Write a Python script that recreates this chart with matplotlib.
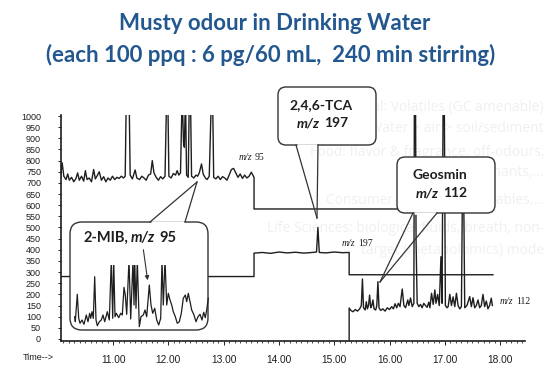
import matplotlib
matplotlib.use('Agg')
import matplotlib.pyplot as plt
from matplotlib.patches import FancyBboxPatch
from matplotlib.ticker import MultipleLocator

W, H = 550, 371

# m/z 95 trace (2-MIB), then offset step down after 13.55 min
mz95_time = [10.05, 10.08, 10.11, 10.15, 10.18, 10.21, 10.25, 10.29, 10.33, 10.36, 10.39, 10.43, 10.47,
             10.50, 10.53, 10.57, 10.61, 10.65, 10.68, 10.72, 10.75, 10.79, 10.83, 10.87, 10.91, 10.95,
             10.99, 11.03, 11.07, 11.11, 11.15, 11.19, 11.22, 11.24, 11.29, 11.31, 11.35, 11.40, 11.43,
             11.48, 11.52, 11.56, 11.60, 11.64, 11.68, 11.71, 11.74, 11.78, 11.82, 11.86, 11.90, 11.94,
             11.97, 11.99, 12.01, 12.05, 12.09, 12.13, 12.16, 12.19, 12.22, 12.25, 12.275, 12.29, 12.31,
             12.33, 12.36, 12.38, 12.40, 12.42, 12.46, 12.50, 12.53, 12.56, 12.60, 12.63, 12.67, 12.70,
             12.74, 12.78, 12.80, 12.82, 12.86, 12.90, 12.94, 12.98, 13.02, 13.06, 13.10, 13.14, 13.18,
             13.22, 13.26, 13.30, 13.34, 13.38, 13.42, 13.46, 13.50, 13.55, 13.55, 17.60]
mz95_abund = [725, 790, 730, 715, 740, 712, 725, 705, 720, 745, 712, 730, 708,
              755, 715, 722, 705, 760, 718, 735, 750, 712, 728, 705, 722, 712,
              730, 715, 725, 720, 730, 722, 730, 1100, 1100, 735, 718, 758, 722,
              715, 730, 722, 712, 735, 740, 800, 745, 725, 712, 728, 718, 730,
              1100, 1100, 730, 722, 742, 735, 755, 735, 745, 1100, 880, 860, 1100,
              735, 725, 1100, 1100, 730, 722, 735, 730, 745, 785, 740, 722, 715,
              730, 1100, 1100, 725, 718, 730, 715, 728, 722, 712, 735, 760, 765,
              745, 725, 740, 720, 735, 722, 730, 748, 725, 583, 583]

# m/z 197 trace (2,4,6-TCA)
mz197_time = [10.05, 13.55, 13.55, 13.70, 13.85, 14.00, 14.15, 14.30, 14.45, 14.60, 14.68, 14.705,
              14.73, 14.85, 15.00, 15.15, 15.27, 15.27, 17.87]
mz197_abund = [280, 280, 385, 388, 384, 390, 386, 389, 385, 388, 390, 500,
               388, 386, 390, 387, 388, 288, 288]

# m/z 112 trace (geosmin)
mz112_time = [15.27, 15.27, 15.30, 15.34, 15.38, 15.42, 15.46, 15.49, 15.51, 15.53, 15.56, 15.58,
              15.60, 15.62, 15.64, 15.66, 15.68, 15.70, 15.72, 15.75, 15.77, 15.79, 15.81, 15.84,
              15.88, 15.92, 15.96, 16.00, 16.04, 16.07, 16.10, 16.13, 16.16, 16.19, 16.23, 16.26,
              16.29, 16.33, 16.35, 16.38, 16.41, 16.44, 16.45, 16.47, 16.48, 16.50, 16.53, 16.56,
              16.59, 16.62, 16.65, 16.68, 16.71, 16.73, 16.76, 16.79, 16.82, 16.84, 16.87, 16.90,
              16.93, 16.95, 16.97, 16.99, 17.01, 17.04, 17.06, 17.09, 17.12, 17.15, 17.18, 17.21,
              17.24, 17.27, 17.30, 17.32, 17.34, 17.36, 17.40, 17.45, 17.48, 17.51, 17.54, 17.57,
              17.60, 17.63, 17.66, 17.69, 17.72, 17.75, 17.78, 17.81, 17.84, 17.86]
mz112_abund = [-10, 139, 128, 122, 132, 125, 135, 150, 269, 140, 130, 167,
               135, 150, 197, 140, 150, 175, 135, 130, 150, 257, 140, 128,
               135, 125, 140, 132, 145, 135, 158, 140, 160, 145, 224, 150,
               140, 175, 150, 184, 145, 160, 1100, 1100, 440, 160, 145, 155,
               140, 160, 150, 142, 165, 140, 205, 155, 220, 160, 200, 150,
               369, 160, 1100, 1100, 150, 140, 145, 200, 150, 189, 145, 205,
               150, 135, 145, 700, 700, 140, 150, 190, 145, 185, 140, 150,
               175, 140, 150, 200, 145, 170, 135, 150, 183, 150]

# zoomed 2-MIB window (scan index, abundance)
mib_scan = [0.7, 1.3, 3.3, 4.7, 6.0, 8.0, 10.0, 12.3, 14.0, 15.7, 16.7, 18.0, 19.3, 20.7, 22.0, 23.3,
            25.3, 27.3, 29.0, 30.7, 33.3, 35.3, 37.3, 38.7, 39.7, 41.0, 42.3, 44.7, 46.7, 48.3, 50.0,
            51.3, 52.7, 55.0, 56.7, 59.0, 60.0, 60.7, 62.0, 63.3, 65.3, 67.0, 69.3, 71.0, 72.7, 75.3,
            77.0, 78.7, 80.7, 82.7, 84.7, 86.7, 88.0, 89.3, 91.0, 92.7, 94.3, 96.0, 97.7, 99.3, 101.3,
            103.3, 105.3, 107.3, 109.3, 111.3, 112.7, 114.3, 116.0, 117.7, 120.0, 122.0, 124.0, 126.0,
            128.0, 129.7, 131.3, 132.7, 134.3]
mib_abund = [133, 83, 357, 117, 67, 100, 57, 150, 83, 167, 117, 183, 117, 533, 100, 43,
             83, 100, 150, 83, 183, 100, 700, 117, 700, 133, 167, 123, 167, 150, 427,
             350, 157, 700, 110, 700, 250, 700, 217, 700, 33, 133, 150, 200, 133, 450,
             250, 167, 217, 100, 50, 117, 700, 250, 700, 250, 367, 300, 250, 183, 133,
             67, 83, 167, 317, 350, 283, 367, 283, 200, 150, 83, 133, 157,
             100, 177, 123, 200, 317]

x_ticks = [11, 12, 13, 14, 15, 16, 17, 18]
y_ticks = list(range(0, 1001, 50))

# slide text showing through faintly behind the chart
ghost_lines = ["Environmental: Volatiles (GC amenable)", "\u2013 Water > air > soil/sediment",
               "Food: flavor & fragrance, off-odours,", "contaminants,...",
               "Consumer products, leachables,...", "Life Sciences: biological fluids, breath, non-",
               "target (metabolomics) mode"]

INK = '#1e1e1e'


def px(x0, y0, x1, y1):
    return [x0 / W, 1 - y1 / H, (x1 - x0) / W, (y1 - y0) / H]


fig = plt.figure(figsize=(W / 100, H / 100), dpi=100)
fig.patch.set_facecolor('white')

ghost_y = [107, 129, 152, 173, 201, 229, 251]
for txt, yy in zip(ghost_lines, ghost_y):
    fig.text(544 / W, 1 - yy / H, txt, fontsize=10, color='#f0f0f0', family='Open Sans',
             va='center', ha='right', zorder=-2)

fig.text(275 / W, 1 - 24 / H, 'Musty odour in Drinking Water', ha='center', va='center',
         fontsize=16, fontweight='bold', color='#23578f', family='Lato')
fig.text(271 / W, 1 - 55 / H, '(each 100 ppq : 6 pg/60 mL,  240 min stirring)', ha='center',
         va='center', fontsize=16, fontweight='bold', color='#23578f', family='Lato')

# main chromatogram
ax = fig.add_axes(px(60.5, 114.9, 525, 341.2))
ax.patch.set_alpha(0)
ax.plot(mz95_time, mz95_abund, color=INK, lw=1.0)
ax.plot(mz197_time, mz197_abund, color=INK, lw=1.0)
ax.plot(mz112_time, mz112_abund, color=INK, lw=1.0)
ax.set_xlim(10.05, 18.45)
ax.set_ylim(-10, 1005)
ax.set_xticks(x_ticks)
ax.set_xticklabels([f'{t:.2f}' for t in x_ticks])
ax.set_yticks(y_ticks)
ax.xaxis.set_minor_locator(MultipleLocator(0.1))
ax.tick_params(axis='y', labelsize=6.5, length=2, pad=12, width=0.6)
ax.tick_params(axis='x', labelsize=7.3, length=3, pad=7, width=0.6)
ax.tick_params(axis='x', which='minor', length=1.5, width=0.5)
for lab in ax.get_xticklabels() + ax.get_yticklabels():
    lab.set_family('Liberation Sans')
    lab.set_color(INK)
for s in ['top', 'right']:
    ax.spines[s].set_visible(False)
for s in ['left', 'bottom']:
    ax.spines[s].set_linewidth(1.2)
    ax.spines[s].set_color(INK)

fig.text(23 / W, 1 - 358 / H, 'Time-->', fontsize=6.5, family='Liberation Sans', color=INK,
         va='center', ha='left')

# overlay for the callouts (pixel coordinates)
ov = fig.add_axes([0, 0, 1, 1])
ov.set_xlim(0, W)
ov.set_ylim(H, 0)
ov.axis('off')
ov.patch.set_alpha(0)
ov.set_zorder(3)


def callout(x0, y0, x1, y1, base, tip, rounding=8):
    ov.add_patch(FancyBboxPatch((x0, y0), x1 - x0, y1 - y0,
                                boxstyle=f'round,pad=0,rounding_size={rounding}',
                                fc='white', ec='#333333', lw=1.0))
    (bl, br), by = base
    ov.plot([bl + 1, br - 1], [by, by], color='white', lw=1.8, solid_capstyle='butt')
    ov.plot([bl, tip[0]], [by, tip[1]], color='#333333', lw=0.9)
    ov.plot([br, tip[0]], [by, tip[1]], color='#333333', lw=0.9)


def mz_label(xr, y, num, size, bold=True, family='Lato'):
    w = 'bold' if bold else 'normal'
    ov.text(xr, y, 'm/z', fontsize=size, fontstyle='italic', fontweight=w, family=family,
            ha='right', va='center', color=INK)
    ov.text(xr + size * 0.4, y, num, fontsize=size, fontweight=w, family=family,
            ha='left', va='center', color=INK)


callout(278, 87, 376, 145, ((296, 318), 145), (317, 218))
ov.text(321, 105, '2,4,6-TCA', fontsize=10, fontweight='bold', family='Lato', ha='center',
        va='center', color=INK)
mz_label(320, 123, '197', 10)

callout(397, 157, 495, 213, ((413, 437), 213), (380, 282))
ov.text(440, 175, 'Geosmin', fontsize=10, fontweight='bold', family='Lato', ha='center',
        va='center', color=INK)
mz_label(439, 193, '112', 10)

callout(70, 222, 208, 330, ((150, 185), 222), (197, 182), rounding=12)
ov.text(83, 238, '2-MIB,', fontsize=10.5, fontweight='bold', family='Lato', ha='left',
        va='center', color=INK)
mz_label(155, 238, '95', 10.5)
ov.annotate('', xy=(148, 283), xytext=(143, 247),
            arrowprops=dict(arrowstyle='-|>', lw=0.8, color='#333333', mutation_scale=6))

mz_label(252, 158, '95', 7, bold=False, family='Liberation Serif')
mz_label(355, 243, '197', 7, bold=False, family='Liberation Serif')
mz_label(513, 302, '112', 7, bold=False, family='Liberation Serif')

# zoomed 2-MIB trace inside the callout
ins = fig.add_axes(px(72, 265, 210, 332))
ins.plot(mib_scan, mib_abund, color=INK, lw=0.9)
ins.set_xlim(-2, 136)
ins.set_ylim(-20, 650)
ins.axis('off')
ins.patch.set_alpha(0)
ins.set_zorder(4)

fig.savefig('out.png', dpi=100)
